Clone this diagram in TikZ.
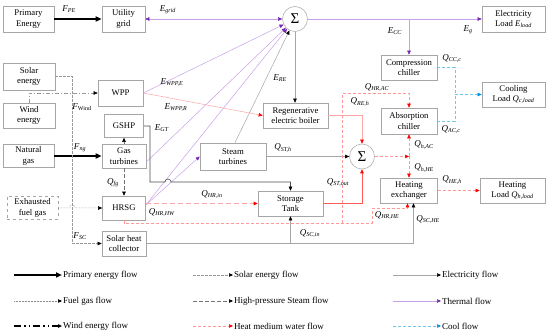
\documentclass[tikz,border=0pt]{standalone}
\usepackage{fontspec}
\setmainfont{Liberation Serif}
\usetikzlibrary{arrows.meta}
\definecolor{thline}{RGB}{200,160,230}
\definecolor{thtipc}{RGB}{115,40,175}
\definecolor{coolline}{RGB}{110,200,240}
\definecolor{cooltipc}{RGB}{0,145,230}
\newcommand{\fl}[2]{\textit{#1}\textsubscript{\textit{#2}}}

\begin{document}
\begin{tikzpicture}[x=1pt,y=-1pt,
  box/.style={draw=black!35, line width=0.6pt, align=center, inner sep=1pt, font=\fontsize{8.7}{10.5}\selectfont},
  sumnode/.style={draw=black!30, line width=0.6pt, circle, minimum size=25pt, inner sep=0pt, font=\fontsize{15}{15}\selectfont},
  lbl/.style={inner sep=0pt, font=\fontsize{9}{9}\selectfont},
  lgtext/.style={anchor=west, inner sep=1pt, font=\fontsize{9}{10}\selectfont},
  primary/.style={black, line width=1.5pt, -{Triangle[length=6pt,width=5pt]}},
  elec/.style={black!35, line width=0.5pt, -{Triangle[length=4pt,width=3.5pt,color=black]}},
  thermal/.style={thline, line width=0.5pt, -{Triangle[length=4pt,width=3.5pt,color=thtipc]}},
  solar/.style={black!40, line width=0.5pt, dash pattern=on 2.5pt off 1.5pt, -{Triangle[length=4pt,width=3.5pt,color=black]}},
  fuel/.style={black!45, line width=0.5pt, densely dotted, -{Triangle[length=4pt,width=3.5pt,color=black]}},
  steam/.style={black!55, line width=0.5pt, dash pattern=on 4pt off 2pt, -{Triangle[length=4pt,width=3.5pt,color=black]}},
  wind/.style={black!40, line width=0.5pt, dash pattern=on 4pt off 2pt on 1pt off 2pt, -{Triangle[length=4pt,width=3.5pt,color=black]}},
  heat/.style={red!40, line width=0.5pt, dash pattern=on 3pt off 2pt, -{Triangle[length=4pt,width=3.5pt,color=red]}},
  heatsolid/.style={red!35, line width=0.5pt, -{Triangle[length=4pt,width=3.5pt,color=red]}},
  heatthick/.style={red!35, line width=1pt, dash pattern=on 5pt off 3pt, -{Triangle[length=4pt,width=3.5pt,color=red]}},
  stout/.style={red!65, line width=0.6pt, -{Triangle[length=4pt,width=3.5pt,color=red]}},
  darkln/.style={black!70, line width=0.6pt, -{Triangle[length=4pt,width=3.5pt,color=black]}},
  cool/.style={coolline, line width=0.5pt, dash pattern=on 3pt off 2pt, -{Triangle[length=4pt,width=3.5pt,color=cooltipc]}}]
\useasboundingbox (0,0) rectangle (550,334);
\node[box, minimum width=51pt, minimum height=26pt] (pe) at (28.5,19) {Primary\\Energy};
\node[box, minimum width=43pt, minimum height=26pt] (ug) at (123.5,19) {Utility\\grid};
\node[sumnode] (sum1) at (295,19) {Σ};
\node[box, minimum width=63pt, minimum height=26pt] (eload) at (513.5,19) {Electricity\\Load \fl{E}{load}};
\node[box, minimum width=52pt, minimum height=27pt] (se) at (29,76.5) {Solar\\energy};
\node[box, minimum width=52pt, minimum height=25pt] (we) at (29,115.5) {Wind\\energy};
\node[box, minimum width=51pt, minimum height=23pt] (ng) at (28.5,156) {Natural\\gas};
\node[box, dashed, minimum width=51pt, minimum height=23pt] (efg) at (32.5,208) {Exhausted\\fuel gas};
\node[box, minimum width=45pt, minimum height=26pt] (wpp) at (120.5,93) {WPP};
\node[box, minimum width=39pt, minimum height=23pt] (gshp) at (124,126) {GSHP};
\node[box, minimum width=44pt, minimum height=24pt] (gt) at (124,156) {Gas\\turbines};
\node[box, minimum width=43pt, minimum height=24pt] (hrsg) at (124,208) {HRSG};
\node[box, minimum width=44pt, minimum height=25pt] (shc) at (124,243.5) {Solar heat\\collector};
\node[box, minimum width=66pt, minimum height=27pt] (st) at (233,156.5) {Steam\\turbines};
\node[box, minimum width=65pt, minimum height=25pt] (reb) at (295.5,115.5) {Regenerative\\electric boiler};
\node[box, minimum width=65pt, minimum height=25pt] (tank) at (290.5,203.5) {Storage\\Tank};
\node[sumnode] (sum2) at (362,156.5) {Σ};
\node[box, minimum width=56pt, minimum height=25pt] (cc) at (409,67.5) {Compression\\chiller};
\node[box, minimum width=56pt, minimum height=26pt] (ac) at (409,121) {Absorption\\chiller};
\node[box, minimum width=57pt, minimum height=25pt] (hx) at (409,190.5) {Heating\\exchanger};
\node[box, minimum width=63pt, minimum height=25pt] (cload) at (513.5,94.5) {Cooling\\Load \fl{Q}{c,load}};
\node[box, minimum width=65pt, minimum height=25pt] (hload) at (512.5,190.5) {Heating\\Load \fl{Q}{h,load}};
\coordinate (gb) at (150,182);
\coordinate (hb) at (372,223);
\coordinate (hv) at (342,223);
\coordinate (hj) at (409,156.5);
\coordinate (cj) at (455,94.5);
\draw[primary] (pe) -- (ug);
\draw[primary] (ng) -- (gt);
\draw[thermal, {Triangle[length=4pt,width=3.5pt,color=thtipc]}-{Triangle[length=4pt,width=3.5pt,color=thtipc]}] (sum1) -- (ug);
\draw[thermal] (sum1) -- (eload);
\draw[thermal] (sum1.east -| cc.north) -- (cc.north);
\draw[thermal] (wpp.east) -- (sum1);
\draw[heatsolid] (wpp.east) -- (reb.west);
\draw[thermal] ([yshift=-6pt]gt.east) -- (sum1);
\draw[thermal] ([yshift=3pt]hrsg.east) -- (sum1);
\draw[thermal] ([yshift=3pt]hrsg.east) -- (st.west);
\draw[elec] ([xshift=2pt]st.north) -- (sum1);
\draw[elec] (sum1) -- (sum1 |- reb.north);
\draw[steam] (gt.north) -- (gshp.south);
\draw[steam] (gt.south) -- (hrsg.north);
\draw[wind] (we.north) |- (wpp.west);
\draw[solar] (se.east) -- ++(17,0) |- (shc.west);
\draw[fuel] (efg.east) -- ++(11,0) arc[start angle=180, end angle=0, radius=3pt] -- (hrsg.west);
\draw[darkln] (gshp.east) -| (gb) -- ++(15,0) arc[start angle=180, end angle=0, radius=3pt] -| (tank.north);
\draw[elec] (st.east) -- (sum2);
\draw[heatsolid] (reb.east) -| (sum2.north);
\draw[stout] (tank.east) -| (sum2.south);
\draw[heat] (sum2.east) -- (hj);
\draw[heat] (hj) -- (ac.south);
\draw[heat] (hj) -- (hx.north);
\draw[heat] (hv) |- ([yshift=14pt]ac.north) -- (ac.north);
\draw[heat] (hrsg.south) |- (hb) |- ([xshift=-1.5pt,yshift=-5pt]hx.south) -- ([xshift=-1.5pt]hx.south);
\draw[heatthick] (tank.west -| hrsg.east) -- (tank.west);
\draw[elec] (shc.east) -| ([xshift=4.5pt]hx.south);
\draw[elec] (shc.east -| tank.south) -- (tank.south);
\draw[heat] (hx.east) -- (hload.west);
\draw[cool, -] (cc.east) -| (cj);
\draw[cool, -] (ac.east) -| (cj);
\draw[cool] (cj) -- (cload.west);
\node[lbl] (lfpe) at (69,9) {\fl{F}{PE}};
\node[lbl] (legrid) at (168,10) {\fl{E}{grid}};
\node[lbl] (lfwind) at (82,107) {\textit{F}\textsubscript{Wind}};
\node[lbl] (lfng) at (80,148) {\fl{F}{ng}};
\node[lbl] (lqfg) at (113,183) {\fl{Q}{fg}};
\node[lbl] (lfsc) at (80,236) {\fl{F}{SC}};
\node[lbl] (lewppe) at (172,83) {\fl{E}{WPP,E}};
\node[lbl] (lewppr) at (176,108) {\fl{E}{WPP,R}};
\node[lbl] (legt) at (162,128) {\fl{E}{GT}};
\node[lbl] (lere) at (280,78) {\fl{E}{RE}};
\node[lbl] (lecc) at (395,31) {\fl{E}{CC}};
\node[lbl] (leg) at (468,30) {\fl{E}{g}};
\node[lbl] (lqccc) at (452,58) {\fl{Q}{CC,c}};
\node[lbl] (lqhrac) at (377,87) {\fl{Q}{HR,AC}};
\node[lbl] (lqreh) at (360,102) {\fl{Q}{RE,h}};
\node[lbl] (lqacc) at (451,129) {\fl{Q}{AC,c}};
\node[lbl] (lqsth) at (283,148) {\fl{Q}{ST,h}};
\node[lbl] (lqhac) at (424,145) {\fl{Q}{h,AC}};
\node[lbl] (lqhhe) at (424,168) {\fl{Q}{h,HE}};
\node[lbl] (lqstout) at (338,182) {\fl{Q}{ST,out}};
\node[lbl] (lqheh) at (452,180) {\fl{Q}{HE,h}};
\node[lbl] (lqhrin) at (212,194) {\fl{Q}{HR,in}};
\node[lbl] (lqhrhw) at (162,212) {\fl{Q}{HR,HW}};
\node[lbl] (lqhrhe) at (387,215) {\fl{Q}{HR,HE}};
\node[lbl] (lqsche) at (428,219) {\fl{Q}{SC,HE}};
\node[lbl] (lqscin) at (310,233) {\fl{Q}{SC,in}};
\node[lgtext] (lg1) at (62,275) {Primary energy flow};
\draw[primary] ([xshift=-48pt]lg1.west) -- (lg1.west);
\node[lgtext] (lg2) at (233,275) {Solar energy flow};
\draw[solar] ([xshift=-40pt]lg2.west) -- (lg2.west);
\node[lgtext] (lg3) at (441,275) {Electricity flow};
\draw[elec] ([xshift=-48pt]lg3.west) -- (lg3.west);
\node[lgtext] (lg4) at (62,301) {Fuel gas flow};
\draw[fuel] ([xshift=-48pt]lg4.west) -- (lg4.west);
\node[lgtext] (lg5) at (233,301) {High-pressure Steam flow};
\draw[steam] ([xshift=-40pt]lg5.west) -- (lg5.west);
\node[lgtext] (lg6) at (441,301) {Thermal flow};
\draw[thermal] ([xshift=-48pt]lg6.west) -- (lg6.west);
\node[lgtext] (lg7) at (62,326) {Wind energy flow};
\draw[wind, black, line width=1.4pt, dash pattern=on 7pt off 3pt on 1.5pt off 3pt on 1.5pt off 3pt] ([xshift=-48pt]lg7.west) -- (lg7.west);
\node[lgtext] (lg8) at (233,326) {Heat medium water flow};
\draw[heat] ([xshift=-40pt]lg8.west) -- (lg8.west);
\node[lgtext] (lg9) at (441,326) {Cool flow};
\draw[cool] ([xshift=-48pt]lg9.west) -- (lg9.west);
\end{tikzpicture}
\end{document}
